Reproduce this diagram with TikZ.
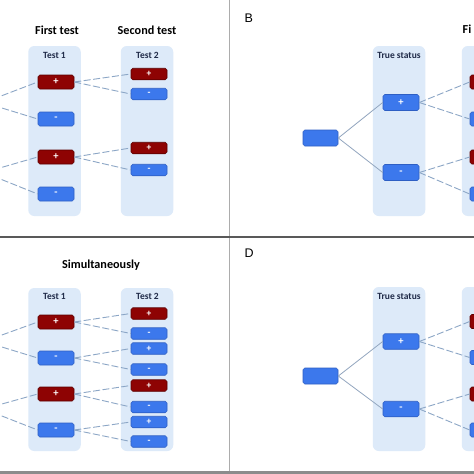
\documentclass[tikz,border=0pt]{standalone}
\usepackage{fontspec}
\setmainfont{Carlito}
\newfontfamily\letterfont{Liberation Sans}
\definecolor{colbgc}{HTML}{DDEAF9}
\definecolor{boxblue}{HTML}{3C78EC}
\definecolor{boxblueb}{HTML}{2E5FC4}
\definecolor{boxred}{HTML}{8E0303}
\definecolor{boxredb}{HTML}{5C0000}
\definecolor{navy}{HTML}{1F2A48}
\definecolor{linec}{HTML}{8CA6C6}
\definecolor{solidc}{HTML}{93A6BF}
\tikzset{
  colbg/.style={fill=colbgc, rounded corners=6pt, inner sep=0pt, minimum width=52.5pt},
  boxbase/.style={rounded corners=1.8pt, inner sep=0pt, minimum width=36pt, line width=0.6pt,
     text=white, font=\bfseries\fontsize{10.5}{10.5}\selectfont},
  bluebox/.style={boxbase, fill=boxblue, draw=boxblueb},
  redbox/.style={boxbase, fill=boxred, draw=boxredb},
  bigh/.style={minimum height=14pt},
  smallh/.style={minimum height=11.5pt, font=\bfseries\fontsize{9.5}{9.5}\selectfont},
  headtxt/.style={font=\bfseries\fontsize{12.2}{14}\selectfont, anchor=base, inner sep=0pt},
  coltxt/.style={font=\bfseries\fontsize{9.5}{11}\selectfont, text=navy, anchor=base, inner sep=0pt},
  lettertxt/.style={font=\letterfont\fontsize{12.5}{14}\selectfont, anchor=base west, inner sep=0pt},
  dashline/.style={draw=linec, line width=0.9pt, dash pattern=on 7pt off 2.5pt},
  solidline/.style={draw=solidc, line width=0.8pt},
}
\begin{document}
\begin{tikzpicture}[x=1pt, y=-1pt]
\useasboundingbox (0,0) rectangle (474,474);
\clip (0,0) rectangle (474,474);
\fill[white] (0,0) rectangle (474,474);

% ---------- Panel A ----------
\node[headtxt] (aht1) at (57,34) {First test};
\node[headtxt] (aht2) at (147,34) {Second test};
\node[colbg, minimum height=170pt] (acol1) at (54.5,131) {};
\node[colbg, minimum height=170pt] (acol2) at (147,131) {};
\node[coltxt] (act1) at (54.5,58.3) {Test 1};
\node[coltxt] (act2) at (147.5,58.3) {Test 2};
\node[redbox, bigh] (a1a) at (56,82) {+};
\node[bluebox, bigh] (a1b) at (56,119) {-};
\node[redbox, bigh] (a1c) at (56,157) {+};
\node[bluebox, bigh] (a1d) at (56,194) {-};
\node[redbox, smallh] (a2a) at (149,74) {+};
\node[bluebox, smallh] (a2b) at (149,94) {-};
\node[redbox, smallh] (a2c) at (149,148) {+};
\node[bluebox, smallh] (a2d) at (149,170) {-};
\coordinate (oa1) at (-16,102.5);
\coordinate (oa2) at (-16,172.5);
\draw[dashline] (oa1) -- (a1a.west);
\draw[dashline] (oa1) -- (a1b.west);
\draw[dashline] (oa2) -- (a1c.west);
\draw[dashline] (oa2) -- (a1d.west);
\draw[dashline] (a1a.east) -- (a2a.west);
\draw[dashline] (a1a.east) -- (a2b.west);
\draw[dashline] (a1c.east) -- (a2c.west);
\draw[dashline] (a1c.east) -- (a2d.west);

% ---------- Panel B ----------
\node[lettertxt] (bl) at (244.3,22) {B};
\node[headtxt, anchor=base west] (bht) at (462.5,33.5) {Fi};
\node[colbg, minimum height=170pt] (bcol1) at (399,131) {};
\node[colbg, minimum height=170pt] (bcol2) at (488,131) {};
\node[coltxt] (bct) at (399,58.3) {True status};
\node[bluebox, minimum width=35pt, minimum height=16pt] (bo) at (320.5,138) {};
\node[bluebox, minimum height=16pt] (btp) at (401,102.5) {+};
\node[bluebox, minimum height=16pt] (btm) at (401,172.5) {-};
\node[redbox, bigh] (br1) at (488,82) {};
\node[bluebox, bigh] (br2) at (488,119) {};
\node[redbox, bigh] (br3) at (488,157) {};
\node[bluebox, bigh] (br4) at (488,194) {};
\draw[solidline] (bo.east) -- (btp.west);
\draw[solidline] (bo.east) -- (btm.west);
\draw[dashline] (btp.east) -- (br1.west);
\draw[dashline] (btp.east) -- (br2.west);
\draw[dashline] (btm.east) -- (br3.west);
\draw[dashline] (btm.east) -- (br4.west);

% ---------- Panel C ----------
\node[headtxt] (cht) at (101,268.5) {Simultaneously};
\node[colbg, minimum height=163pt] (ccol1) at (54.5,369.5) {};
\node[colbg, minimum height=163pt] (ccol2) at (147,369.5) {};
\node[coltxt] (cct1) at (54.5,299.5) {Test 1};
\node[coltxt] (cct2) at (147.5,299.5) {Test 2};
\node[redbox, bigh] (c1a) at (56,322) {+};
\node[bluebox, bigh] (c1b) at (56,358) {-};
\node[redbox, bigh] (c1c) at (56,394) {+};
\node[bluebox, bigh] (c1d) at (56,430) {-};
\node[redbox, smallh] (c2a) at (149,313.5) {+};
\node[bluebox, smallh] (c2b) at (149,333.5) {-};
\node[bluebox, smallh] (c2c) at (149,348.5) {+};
\node[bluebox, smallh] (c2d) at (149,369.5) {-};
\node[redbox, smallh] (c2e) at (149,385.5) {+};
\node[bluebox, smallh] (c2f) at (149,407) {-};
\node[bluebox, smallh] (c2g) at (149,422) {+};
\node[bluebox, smallh] (c2h) at (149,441.5) {-};
\coordinate (oc1) at (-16,341.5);
\coordinate (oc2) at (-16,409);
\draw[dashline] (oc1) -- (c1a.west);
\draw[dashline] (oc1) -- (c1b.west);
\draw[dashline] (oc2) -- (c1c.west);
\draw[dashline] (oc2) -- (c1d.west);
\draw[dashline] (c1a.east) -- (c2a.west);
\draw[dashline] (c1a.east) -- (c2b.west);
\draw[dashline] (c1b.east) -- (c2c.west);
\draw[dashline] (c1b.east) -- (c2d.west);
\draw[dashline] (c1c.east) -- (c2e.west);
\draw[dashline] (c1c.east) -- (c2f.west);
\draw[dashline] (c1d.east) -- (c2g.west);
\draw[dashline] (c1d.east) -- (c2h.west);

% ---------- Panel D ----------
\node[lettertxt] (dl) at (244.3,257) {D};
\node[colbg, minimum height=164pt] (dcol1) at (399,369) {};
\node[colbg, minimum height=164pt] (dcol2) at (488,369) {};
\node[coltxt] (dct) at (399,299.3) {True status};
\node[bluebox, minimum width=35pt, minimum height=16pt] (do) at (320.5,376) {};
\node[bluebox, minimum height=15.5pt] (dtp) at (401,341.5) {+};
\node[bluebox, minimum height=15.5pt] (dtm) at (401,409) {-};
\node[redbox, bigh] (dr1) at (488,321.5) {};
\node[bluebox, bigh] (dr2) at (488,357.5) {};
\node[redbox, bigh] (dr3) at (488,394) {};
\node[bluebox, bigh] (dr4) at (488,430) {};
\draw[solidline] (do.east) -- (dtp.west);
\draw[solidline] (do.east) -- (dtm.west);
\draw[dashline] (dtp.east) -- (dr1.west);
\draw[dashline] (dtp.east) -- (dr2.west);
\draw[dashline] (dtm.east) -- (dr3.west);
\draw[dashline] (dtm.east) -- (dr4.west);

% ---------- Dividers ----------
\draw[line width=1pt, draw=gray!65] (229.5,0) -- (229.5,474);
\draw[line width=1.6pt, draw=black!65] (0,237) -- (474,237);
\draw[line width=2.5pt, draw=black!45] (0,472.5) -- (474,472.5);
\end{tikzpicture}
\end{document}
